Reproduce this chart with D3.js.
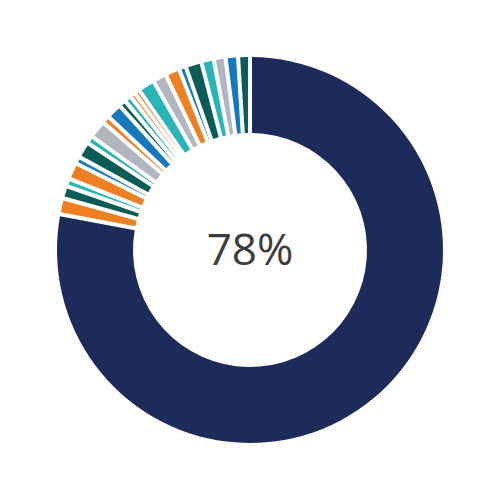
<!DOCTYPE html>
<html><head><meta charset="utf-8">
<script src="https://cdn.jsdelivr.net/npm/d3@7"></script>
<style>body{margin:0;background:#fff}</style></head>
<body><svg id="c" width="500" height="500"></svg>
<script>
const labels = ["main","s1","s2","s3","s4","s5","s6","s7","s8","s9","s10","s11","s12","s13","s14","s15","s16","s17","s18","s19","s20","s21","s22","s23"];
const values = [78,1.05,0.75,0.35,1.1,0.3,1.05,0.35,1.2,0.35,1.0,0.3,0.3,0.15,0.15,1.1,0.85,0.9,0.3,1.05,0.75,0.7,0.75,0.7];
const colorKeys = ["navy","orange","dteal","teal","orange","blue","dteal","teal","gray","orange","blue","dteal","teal","orange","orange","teal","gray","orange","blue","dteal","teal","gray","blue","dteal"];
const centerLabel = "78%";
const palette = {navy:"#1d2b5a",orange:"#f07f22",dteal:"#0b5c57",teal:"#27b5b8",gray:"#b1b6c0",blue:"#1479bd"};
const svg = d3.select("#c");
const g = svg.append("g").attr("transform","translate(250,250)");
const pie = d3.pie().sort(null).padAngle(0.018).value(d=>d);
const arc = d3.arc().innerRadius(117).outerRadius(193);
g.selectAll("path").data(pie(values)).join("path")
 .attr("d",arc).attr("fill",(d,i)=>palette[colorKeys[i]]);
g.append("text").attr("text-anchor","middle").attr("dy","0.35em")
 .attr("font-family","Open Sans, sans-serif").attr("font-size",44).attr("fill","#3d3d3d")
 .text(centerLabel);
</script></body></html>
